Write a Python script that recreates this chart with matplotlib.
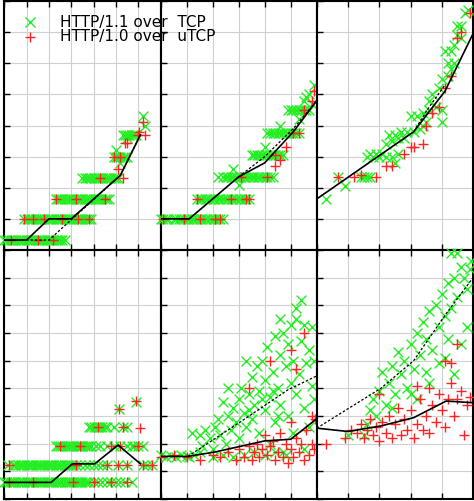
import numpy as np
import matplotlib.pyplot as plt

GREEN = '#22ee22'
RED = '#ff2222'

# ---- data (x in grid units, y in grid units) ----
# top-left: horizontal bands (x list, level)
tl_green_bands = [
    ([0, .1, .2, .3, .4, .5, .6, .7, .8, .9, 1.0, 1.1, 1.2, 1.3, 1.4, 1.5, 1.6, 1.7, 1.8, 1.9, 2.0,
      2.1, 2.2, 2.3, 2.4, 2.5, 2.6, 2.7], 0.32),
    ([.9, 1.0, 1.1, 1.2, 1.3, 1.4, 1.5, 1.6, 1.7, 1.8, 1.9, 2.0, 2.1, 2.2, 2.3, 2.4, 2.5, 2.6, 2.7,
      2.8, 2.9, 3.0, 3.1, 3.2, 3.3, 3.4, 3.5, 3.6, 3.7, 3.8, 3.9], 1.0),
    ([2.3, 2.4, 2.5, 2.6, 2.7, 2.8, 2.9, 3.0, 3.1, 3.2, 3.3, 3.4, 3.5, 3.6, 3.7, 3.8, 3.9, 4.0, 4.1,
      4.2, 4.3, 4.4, 4.5, 4.6, 4.7], 1.63),
    ([3.5, 3.6, 3.7, 3.8, 3.9, 4.0, 4.1, 4.2, 4.3, 4.4, 4.5, 4.6, 4.7, 4.8, 4.9, 5.0, 5.1], 2.3),
    ([4.9, 5.0, 5.1, 5.2, 5.3, 5.4, 5.5], 3.0),
    ([5.3, 5.4, 5.5, 5.6, 5.7, 5.8, 5.9], 3.7),
]
tl_red_bands = [
    ([.3, 1.5, 2.2], 0.32),
    ([.9, 1.3, 1.8, 2.6, 3.3, 3.8], 1.0),
    ([2.3, 3.2, 4.5], 1.63),
    ([4.3, 5.3], 2.3),
    ([4.9, 5.2], 3.0),
    ([6.0], 3.7),
]
tl_gx, tl_gy = [6.2, 6.3, 5.5, 5.2, 5.0], [4.3, 4.0, 3.6, 2.8, 3.2]
tl_rx, tl_ry = [6.2, 6.3, 6.05, 5.4, 5.5, 5.1], [4.1, 3.7, 3.8, 3.45, 3.45, 2.6]
tl_solid = ([0, 1, 2, 3, 5.2, 6.1], [0.32, 0.32, 1.0, 1.0, 2.4, 3.7])
tl_dash = ([0, 2, 5.2, 6.1], [0.32, 0.32, 2.4, 3.7])

# top-middle
tm_green_bands = [
    ([0, .1, .2, .3, .5, .6, .7, .8, .9, 1.0, 1.1, 1.2, 1.3, 1.4, 1.5, 1.6, 1.7, 1.8, 1.9, 2.0, 2.1,
      2.2, 2.3, 2.4], 1.0),
    ([1.4, 1.5, 1.6, 1.7, 1.8, 1.9, 2.0, 2.1, 2.2, 2.3, 2.4, 2.5, 2.6, 2.7, 2.8, 2.9, 3.0, 3.1, 3.2,
      3.3, 3.4], 1.64),
    ([2.2, 2.4, 2.5, 2.6, 2.7, 2.8, 2.9, 3.0, 3.1, 3.2, 3.3, 3.4, 3.5, 3.6, 3.7, 3.8, 3.9, 4.0, 4.1,
      4.2, 4.3], 2.35),
    ([3.5, 3.6, 3.7, 3.8, 3.9, 4.0, 4.1, 4.2, 4.3, 4.4, 4.5, 4.6, 4.7], 3.05),
    ([4.1, 4.2, 4.3, 4.4, 4.5, 4.6, 4.7, 4.8, 4.9, 5.0, 5.1, 5.2, 5.3], 3.75),
    ([4.9, 5.0, 5.1, 5.2, 5.3, 5.4, 5.5, 5.6, 5.7], 4.5),
]
tm_red_bands = [
    ([.1, .9, 1.5, 2.1, 2.3], 1.0),
    ([1.4, 2.7, 3.3, 3.4], 1.64),
    ([3.1, 4.1], 2.35),
    ([4.4], 3.05),
    ([5.1, 5.3], 3.75),
    ([5.5], 4.5),
]
tm_gx = [5.9, 5.6, 5.8, 5.5, 3.0, 2.8, 4.0, 4.6, 5.3, 5.7]
tm_gy = [5.3, 4.9, 4.7, 4.8, 2.1, 2.6, 3.3, 4.0, 4.2, 5.0]
tm_rx, tm_ry = [5.9, 4.6, 4.4, 4.8, 5.8], [5.1, 2.9, 2.7, 3.3, 4.8]
tm_solid = ([0, 1.1, 3.0, 4.0, 5.1, 6.0], [1.0, 1.0, 2.35, 2.8, 3.8, 4.8])
tm_dash = ([3.0, 4.0, 5.1, 6.0], [2.35, 3.0, 3.9, 4.8])

# top-right
tr_gx = [.28, .68, .9, 1.4, 1.5, 1.6, 1.7, 1.6, 1.8, 2.0, 2.2, 2.4, 2.6, 2.3, 2.5, 2.7, 2.9, 3.1, 3.3,
         3.0, 3.2, 3.4, 3.6, 3.8, 4.0, 3.7, 3.9, 4.0, 4.2, 4.3, 4.1, 4.3, 4.4, 4.5, 4.6, 4.75, 4.85,
         4.4, 4.0, 3.5, 2.2, 2.5, 1.7, 1.9, 2.1, 2.4, 2.6, 2.8, 3.4, 3.6, 4.2, 4.5, 4.6]
tr_gy = [1.64, 2.35, 2.05, 2.35, 2.35, 2.35, 2.35, 3.0, 3.0, 3.0, 3.0, 3.0, 3.1, 3.7, 3.7, 3.8, 3.8, 3.8, 3.9,
         4.3, 4.3, 4.4, 4.5, 4.6, 4.5, 5.0, 5.2, 5.5, 5.6, 5.8, 6.4, 6.4, 6.6, 7.2, 7.2, 7.6, 7.7,
         6.0, 4.1, 4.1, 3.4, 2.8, 3.1, 3.1, 3.1, 3.5, 3.6, 3.6, 4.0, 4.8, 6.0, 6.9, 6.8]
tr_rx = [.68, 1.9, 1.2, 2.2, 2.4, 2.8, 3.0, 3.1, 3.4, 3.5, 3.7, 3.9, 4.1, 4.3, 4.5, 4.6, 4.9, 1.4]
tr_ry = [2.35, 2.35, 2.35, 2.7, 2.7, 3.1, 3.3, 3.3, 3.4, 4.0, 4.4, 4.6, 5.2, 5.6, 6.8, 7.0, 7.6, 2.4]
tr_solid = ([0, 3.1, 4.1, 5.0], [1.64, 3.8, 5.1, 6.95])
tr_dash = ([3.1, 3.6, 4.1], [3.8, 4.6, 5.3])

# bottom-left
bl_green_bands = [
    ([0, .1, .2, .3, .4, .5, .6, .7, .8, .9, 1.0, 1.1, 1.2, 1.3, 1.4, 1.5, 1.6, 1.7, 1.8, 1.9, 2.0,
      2.1, 2.2, 2.3, 2.4, 2.5, 2.6, 2.7, 2.8, 2.9, 3.0, 3.1, 3.2, 3.3, 3.4, 3.5, 3.6, 3.7, 3.8, 4.0,
      4.2, 4.4, 4.6, 4.8, 5.0, 5.2, 5.4, 5.7], 0.6),
    ([.15, .4, .5, .6, .7, .8, .9, 1.0, 1.1, 1.2, 1.3, 1.4, 1.5, 1.6, 1.7, 1.8, 1.9, 2.0, 2.1, 2.2,
      2.3, 2.4, 2.5, 2.6, 2.7, 2.8, 2.9, 3.0, 3.1, 3.2, 3.4, 3.6, 3.8, 4.0, 4.2, 4.4, 4.6, 5.1, 5.5,
      6.2, 6.4, 6.6], 1.22),
    ([2.3, 2.4, 2.5, 2.6, 2.7, 2.8, 2.9, 3.0, 3.1, 3.2, 3.3, 3.4, 3.5, 3.6, 3.7, 3.8, 3.9, 4.1, 4.3,
      4.6, 4.9, 5.2, 5.5, 5.7, 5.8, 6.0, 6.2], 1.9),
    ([3.8, 3.9, 4.0, 4.1, 4.2, 4.3, 4.4, 4.5, 4.6, 4.9, 5.3, 5.5], 2.6),
]
bl_red_bands = [
    ([.2, 1.3, 3.1, 4.0, 4.8, 5.5], 0.6),
    ([.2, 3.2, 4.6, 5.1, 5.5, 6.2, 6.6], 1.22),
    ([2.5, 3.4, 4.8, 5.2, 6.0], 1.9),
    ([4.2, 5.3], 2.6),
]
bl_gx, bl_gy = [5.15, 5.9], [3.25, 3.5]
bl_rx, bl_ry = [5.15, 5.9, 6.1], [3.25, 3.55, 2.55]
bl_solid = ([0, 2.1, 3.05, 4.05, 5.1, 6.1], [0.6, 0.6, 1.27, 1.27, 1.95, 1.27])

# bottom-middle
bm_gx = [0, .2, .4, .6, .8, 1.0, 1.1, 1.3, 1.5, 1.6, 1.5, 1.2, 1.7, 1.9, 2.0, 2.1, 2.2, 2.3, 2.4, 2.5, 2.6,
         2.7, 2.8, 2.9, 3.0, 3.0, 3.1, 3.2, 3.3, 3.4, 3.5, 3.5, 3.6, 3.7, 3.8, 3.8, 3.9, 4.0, 4.0, 4.1,
         4.2, 4.2, 4.3, 4.4, 4.4, 4.5, 4.6, 4.6, 4.7, 4.7, 4.8, 4.9, 4.9, 5.0, 5.0, 5.1, 5.1, 5.2, 5.2,
         5.3, 5.4, 5.4, 5.5, 5.5, 5.6, 5.7, 5.7, 5.8, 5.8, 5.9, 5.9, 5.5, 3.3, 2.6, 4.6, 5.2,
         2.0, 2.4, 2.8, 3.2, 3.6, 4.0, 4.4, 4.8, 3.4, 3.9, 4.3, 4.5]
bm_gy = [1.6, 1.5, 1.55, 1.5, 1.6, 1.55, 1.5, 1.6, 1.7, 1.9, 2.3, 2.4, 2.5, 2.2, 1.8, 2.6, 2.9, 2.3, 3.5, 2.0,
         3.0, 2.5, 3.3, 2.8, 3.6, 2.2, 4.0, 3.1, 2.6, 3.8, 4.4, 2.9, 3.4, 4.8, 3.9, 2.4, 5.0, 4.3, 3.2,
         5.5, 3.7, 2.0, 4.6, 5.9, 2.8, 4.0, 5.2, 3.4, 6.0, 1.7, 4.8, 5.6, 3.0, 6.3, 4.2, 5.0, 2.4, 6.5,
         3.8, 4.5, 7.2, 5.7, 3.3, 6.3, 4.9, 5.4, 2.6, 6.2, 4.1, 5.0, 3.6, 1.8, 5.0, 4.0, 6.5, 6.9,
         1.5, 1.6, 1.5, 1.6, 1.7, 1.6, 1.7, 1.6, 3.2, 3.6, 3.9, 3.0]
bm_rx = [0, .5, 1.0, 1.5, 2.0, 2.3, 2.6, 2.9, 3.0, 3.2, 3.4, 3.5, 3.6, 3.7, 3.8, 3.9, 4.0, 4.1, 4.2, 4.3,
         4.4, 4.5, 4.6, 4.7, 4.8, 4.9, 5.0, 5.0, 5.1, 5.2, 5.3, 5.4, 5.5, 5.6, 5.7, 5.8, 5.9, 3.4, 4.2,
         5.0, 5.5, 5.2, 5.8, 5.95]
bm_ry = [1.5, 1.6, 1.5, 1.4, 1.6, 1.5, 1.7, 1.4, 1.8, 1.5, 1.9, 1.4, 1.7, 2.0, 1.5, 1.8, 2.3, 1.6, 1.9, 2.1,
         1.4, 1.7, 2.4, 1.5, 2.0, 1.3, 1.8, 2.8, 1.5, 2.2, 1.7, 2.0, 1.4, 2.5, 1.6, 2.0, 1.8, 4.0, 5.0,
         5.4, 6.0, 4.7, 3.0, 2.9]
bm_solid = ([0, 1.05, 2.1, 4.0, 5.0, 6.0], [1.54, 1.54, 1.7, 2.1, 2.16, 2.9])
bm_dash = ([1.05, 2.85, 4.9, 6.0], [1.54, 2.65, 3.95, 4.45])

# bottom-right
br_gx = [1.0, 1.5, 1.6, 1.7, 1.8, 1.9, 2.0, 2.1, 2.2, 2.3, 2.4, 2.5, 2.6, 2.7, 2.8, 2.9, 3.0, 3.1, 3.2, 3.2,
         3.3, 3.4, 3.5, 3.5, 3.6, 3.7, 3.8, 3.9, 3.9, 4.0, 4.1, 4.2, 4.2, 4.3, 4.4, 4.4, 4.5, 4.6, 4.6,
         4.7, 4.8, 4.8, 4.9, 4.95, 4.3, 4.5, 4.1, 2.4, 3.0, 3.6]
br_gy = [2.3, 2.3, 2.7, 3.2, 3.6, 3.0, 3.9, 4.6, 3.4, 4.2, 4.8, 3.8, 5.3, 4.5, 5.0, 4.0, 5.6, 4.7, 6.0, 3.6,
         5.2, 6.4, 4.6, 5.8, 6.8, 5.4, 7.0, 6.2, 4.9, 7.4, 6.6, 5.8, 7.8, 6.9, 8.0, 4.5, 7.3, 8.4, 5.6,
         8.0, 6.2, 7.6, 8.3, 8.6, 8.9, 8.9, 5.1, 3.3, 3.8, 4.2]
br_rx = [.3, .9, 1.1, 1.3, 1.4, 1.5, 1.6, 1.7, 1.8, 1.9, 2.0, 2.1, 2.2, 2.3, 2.4, 2.5, 2.6, 2.7, 2.8, 2.9,
         3.0, 3.1, 3.2, 3.3, 3.4, 3.5, 3.6, 3.7, 3.8, 3.9, 4.0, 4.1, 4.2, 4.3, 4.4, 4.5, 4.6, 4.7, 4.8,
         4.9, 4.1, 4.3, 4.5, 3.6, 3.2, 2.0]
br_ry = [2.0, 2.2, 2.5, 2.4, 2.7, 2.2, 2.5, 2.9, 2.3, 2.6, 2.1, 2.8, 2.4, 3.0, 2.2, 2.7, 3.3, 2.3, 2.9, 2.5,
         3.2, 2.2, 2.7, 3.6, 2.5, 3.0, 2.4, 3.4, 2.8, 3.8, 3.2, 2.6, 3.6, 4.2, 3.0, 3.6, 3.9, 2.3, 3.4,
         3.7, 5.0, 4.9, 5.6, 4.0, 4.1, 3.8]
br_solid = ([0, 1.0, 2.05, 3.1, 4.14, 5.0], [2.56, 2.44, 2.64, 2.94, 3.54, 3.48])
br_dash = ([0, 2.05, 3.1, 4.14, 5.0], [2.56, 4.0, 5.0, 6.7, 8.0])


def flatten(bands):
    xs, ys = [], []
    for bx, level in bands:
        xs += list(bx)
        ys += [level] * len(bx)
    return xs, ys


def draw(ax, nx, ny, gx, gy, rx, ry, solid, dash=None):
    ax.set_xlim(0, nx)
    ax.set_ylim(0, ny)
    ax.set_xticks(np.arange(0, nx + 1))
    ax.set_yticks(np.arange(0, ny + 1))
    ax.set_xticklabels([])
    ax.set_yticklabels([])
    ax.tick_params(direction='in', length=4, top=True, right=False, width=1)
    ax.grid(True, color='#d0d0d0', linewidth=0.8)
    ax.set_axisbelow(True)
    for s in ax.spines.values():
        s.set_linewidth(1.5)
    ax.scatter(gx, gy, marker='x', s=50, color=GREEN, linewidths=1.0, zorder=3, clip_on=False)
    ax.scatter(rx, ry, marker='+', s=50, color=RED, linewidths=1.0, zorder=4, clip_on=False)
    ax.plot(*solid, color='black', linewidth=1.2, zorder=5)
    if dash is not None:
        ax.plot(*dash, color='black', linewidth=0.9, linestyle='--', dashes=(2, 1.5), zorder=5)


fig, axes = plt.subplots(2, 3, figsize=(4.74, 5.01), dpi=100)
fig.subplots_adjust(left=0.009, right=0.998, top=0.998, bottom=0.004, wspace=0, hspace=0)

gx, gy = flatten(tl_green_bands)
rx, ry = flatten(tl_red_bands)
draw(axes[0, 0], 7, 8, gx + tl_gx, gy + tl_gy, rx + tl_rx, ry + tl_ry, tl_solid, tl_dash)

gx, gy = flatten(tm_green_bands)
rx, ry = flatten(tm_red_bands)
draw(axes[0, 1], 6, 8, gx + tm_gx, gy + tm_gy, rx + tm_rx, ry + tm_ry, tm_solid, tm_dash)

draw(axes[0, 2], 5, 8, tr_gx, tr_gy, tr_rx, tr_ry, tr_solid, tr_dash)

gx, gy = flatten(bl_green_bands)
rx, ry = flatten(bl_red_bands)
draw(axes[1, 0], 7, 9, gx + bl_gx, gy + bl_gy, rx + bl_rx, ry + bl_ry, bl_solid)

draw(axes[1, 1], 6, 9, bm_gx, bm_gy, bm_rx, bm_ry, bm_solid, bm_dash)
draw(axes[1, 2], 5, 9, br_gx, br_gy, br_rx, br_ry, br_solid, br_dash)

# legend drawn as figure texts
fig.lines.append(plt.Line2D([30 / 474], [1 - 22 / 501], marker='x', color=GREEN, markersize=7,
                            transform=fig.transFigure, linestyle='none'))
fig.lines.append(plt.Line2D([30 / 474], [1 - 37 / 501], marker='+', color=RED, markersize=7,
                            transform=fig.transFigure, linestyle='none'))
fig.text(60 / 474, 1 - 22 / 501, 'HTTP/1.1 over  TCP', fontsize=11, va='center', ha='left')
fig.text(60 / 474, 1 - 37 / 501, 'HTTP/1.0 over  uTCP', fontsize=11, va='center', ha='left')

fig.savefig('out.png', dpi=100)
